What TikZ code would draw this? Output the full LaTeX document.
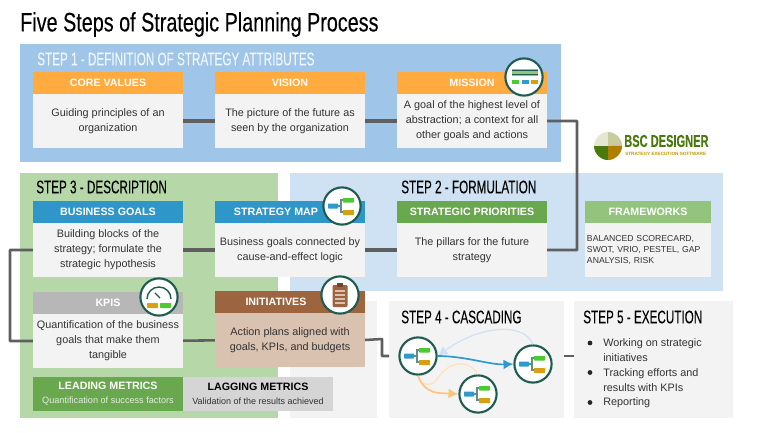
\documentclass[tikz,border=0pt]{standalone}
\usepackage{fontspec}
\setmainfont{Liberation Sans}
\newfontfamily\headfont[FakeStretch=0.64,FakeBold=0.1]{Liberation Sans}
\newfontfamily\titlefont[FakeStretch=0.74,FakeBold=0.15]{Liberation Sans}
\usetikzlibrary{positioning,arrows.meta}

\definecolor{stepOneBg}{HTML}{9FC5E8}
\definecolor{stepTwoBg}{HTML}{CFE2F3}
\definecolor{stepThreeBg}{HTML}{B6D7A8}
\definecolor{paleBg}{HTML}{F3F3F3}
\definecolor{orangeHead}{HTML}{FFAB40}
\definecolor{blueHead}{HTML}{2E96C8}
\definecolor{greenHead}{HTML}{6AA84F}
\definecolor{lightGreenHead}{HTML}{93C47D}
\definecolor{grayHead}{HTML}{B7B7B7}
\definecolor{brownHead}{HTML}{9C6540}
\definecolor{brownBody}{HTML}{D9C2B0}
\definecolor{lagBg}{HTML}{D5D5D5}
\definecolor{linkGray}{HTML}{5F5F5F}
\definecolor{ringTeal}{HTML}{1E5C50}
\definecolor{iconGreen}{HTML}{4CCB2E}
\definecolor{iconGold}{HTML}{D6A010}
\definecolor{iconBlue}{HTML}{2E9BD0}
\definecolor{logoPale}{HTML}{E6E7D2}
\definecolor{logoSage}{HTML}{C9CC9C}
\definecolor{logoGreen}{HTML}{4A7A0C}
\definecolor{logoGold}{HTML}{B07F00}

\tikzset{
  stepTitle/.style={anchor=west, inner sep=0pt, font=\headfont\fontsize{13}{15}\selectfont},
  cardHead/.style={minimum width=3.75cm, minimum height=0.55cm, inner sep=0pt, outer sep=0pt,
    text=white, font=\fontsize{7.6}{9}\selectfont\bfseries},
  cardBody/.style={fill=paleBg, minimum width=3.75cm, minimum height=1.35cm, inner sep=0pt, outer sep=0pt,
    align=center, text=black!80, font=\fontsize{7.7}{10.7}\selectfont},
  metricBox/.style={minimum width=3.75cm, minimum height=0.85cm, inner sep=0pt, outer sep=0pt, align=center,
    font=\fontsize{7.6}{10}\selectfont},
  linkThick/.style={draw=linkGray, line width=2.6pt},
  linkThin/.style={draw=linkGray, line width=1.8pt},
  iconRing/.style={circle, draw=ringTeal, fill=white, line width=1.5pt, minimum size=0.93cm, inner sep=0pt},
  stepText/.style={anchor=west, align=left, inner sep=0pt, text=black!80, font=\fontsize{7.7}{10.7}\selectfont},
  mapIcon/.pic={
    \draw[draw=ringTeal!70, line width=0.8pt] (-5,0) -- (-1,0) (2,-6) -- (-1,-6) -- (-1,6) -- (2,6);
    \fill[iconBlue, rounded corners=0.5pt] (-14,-2.5) rectangle (-4,2.5);
    \fill[iconGreen, rounded corners=0.5pt] (1,-8) rectangle (12,-3.5);
    \fill[iconGold, rounded corners=0.5pt] (1,4) rectangle (12,9);
  },
  gaugeIcon/.pic={
    \draw[draw=ringTeal, line width=1pt] (-12,2) arc[start angle=180, end angle=0, radius=0.3cm];
    \draw[draw=ringTeal, line width=1pt] (-4,-4) -- (1,1);
    \fill[iconGold, rounded corners=0.5pt] (-12,6) rectangle (-1,11);
    \fill[iconGreen, rounded corners=0.5pt] (1,6) rectangle (12,11);
  },
  boardIcon/.pic={
    \fill[brownHead, rounded corners=0.8pt] (-7.5,-10) rectangle (7.5,12);
    \fill[brownHead!70!black] (-3,-12) rectangle (3,-8);
    \foreach \ly in {-4,0,4,8} {
      \draw[draw=brownBody, line width=1pt] (-5,\ly) -- (5,\ly);
    }
  },
  listIcon/.pic={
    \fill[lightGreenHead] (-12,-8) rectangle (14,-1);
    \draw[draw=ringTeal, line width=0.7pt] (-12,-6.5) -- (14,-6.5) (-12,-2.5) -- (14,-2.5);
    \fill[iconGreen] (-12,3) rectangle (-5,7);
    \fill[iconBlue] (-2,3) rectangle (5,7);
    \fill[iconGold] (7,3) rectangle (14,7);
  }
}

\begin{document}
\begin{tikzpicture}[x=0.025cm, y=-0.025cm]
\useasboundingbox (0,0) rectangle (768,433);

%% Backgrounds
\fill[stepOneBg] (20,44) rectangle (561,162);
\fill[stepTwoBg] (290,173) rectangle (723,291);
\fill[paleBg] (290,301) rectangle (377,418);
\fill[stepThreeBg] (20,173) rectangle (278,418);
\fill[paleBg] (389,301) rectangle (564,418);
\fill[paleBg] (574,301) rectangle (733,418);

%% Title and step names
\node[anchor=west, inner sep=0pt, font=\titlefont\fontsize{19}{21}\selectfont] (pageTitle) at (20,24.5) {Five Steps of Strategic Planning Process};
\node[stepTitle, text=white!85!stepOneBg] (stepOne) at (37,59) {STEP 1 - DEFINITION OF STRATEGY ATTRIBUTES};
\node[stepTitle] (stepTwo) at (401,187) {STEP 2 - FORMULATION};
\node[stepTitle] (stepThree) at (36,187) {STEP 3 - DESCRIPTION};
\node[stepTitle] (stepFour) at (401,317) {STEP 4 - CASCADING};
\node[stepTitle] (stepFive) at (583,317) {STEP 5 - EXECUTION};

%% Step 1
\node[cardHead, fill=orangeHead] (coreHead) at (108,83) {CORE VALUES};
\node[cardBody, below=0pt of coreHead] (coreBody) {Guiding principles of an\\organization};
\node[cardHead, fill=orangeHead] (visionHead) at (290,83) {VISION};
\node[cardBody, below=0pt of visionHead] (visionBody) {The picture of the future as\\seen by the organization};
\node[cardHead, fill=orangeHead] (missionHead) at (472,83) {MISSION};
\node[cardBody, below=0pt of missionHead] (missionBody) {A goal of the highest level of\\abstraction; a context for all\\other goals and actions};

%% Step 2
\node[cardHead, fill=greenHead] (prioHead) at (472,212) {STRATEGIC PRIORITIES};
\node[cardBody, below=0pt of prioHead] (prioBody) {The pillars for the future\\strategy};
\node[cardHead, fill=lightGreenHead, minimum width=3.15cm] (frameHead) at (648,212) {FRAMEWORKS};
\node[cardBody, below=0pt of frameHead, minimum width=3.15cm, text width=3.05cm, align=left, font=\fontsize{6.15}{7.9}\selectfont] (frameBody) {BALANCED SCORECARD,\\SWOT, VRIO, PESTEL, GAP\\ANALYSIS, RISK};

%% Step 3
\node[cardHead, fill=blueHead] (goalsHead) at (108,212) {BUSINESS GOALS};
\node[cardBody, below=0pt of goalsHead] (goalsBody) {Building blocks of the\\strategy; formulate the\\strategic hypothesis};
\node[cardHead, fill=blueHead] (mapHead) at (290,212) {STRATEGY MAP\hspace{0.7cm}\null};
\node[cardBody, below=0pt of mapHead] (mapBody) {Business goals connected by\\cause-and-effect logic};
\node[cardHead, fill=grayHead] (kpiHead) at (108,303) {KPIS};
\node[cardBody, below=0pt of kpiHead] (kpiBody) {Quantification of the business\\goals that make them\\tangible};
\node[cardHead, fill=brownHead] (initHead) at (290,302) {INITIATIVES\hspace{0.7cm}\null};
\node[cardBody, fill=brownBody, below=0pt of initHead] (initBody) {Action plans aligned with\\goals, KPIs, and budgets};
\node[metricBox, fill=greenHead, text=white] (leadBox) at (108,394) {\bfseries LEADING METRICS\\{\fontsize{6.5}{8}\selectfont\mdseries\color{white!80!greenHead}Quantification of success factors}};
\node[metricBox, fill=lagBg, right=0pt of leadBox] (lagBox) {\bfseries LAGGING METRICS\\{\fontsize{6.4}{8}\selectfont\mdseries\color{black!80}Validation of the results achieved}};

%% Links
\coordinate (bendA) at (577,121);
\coordinate (bendB) at (10,250);
\coordinate (bendC) at (382,339);
\coordinate (fourIn) at (389,356);
\coordinate (fourOut) at (564,356);
\coordinate (fiveIn) at (574,356);
\draw[linkThick] (coreBody) -- (visionBody);
\draw[linkThick] (visionBody) -- (missionBody);
\draw[linkThin, line join=round] (missionBody.east) -- (bendA) |- (prioBody.east);
\draw[linkThick] (prioBody) -- (mapBody);
\draw[linkThick] (mapBody) -- (goalsBody);
\draw[linkThin, line join=round] (goalsBody.west) -- (bendB) |- (kpiBody.west);
\draw[linkThin] (kpiBody) -- (initBody);
\draw[linkThin, line join=round] (initBody.east) -- (bendC) |- (fourIn);
\draw[linkThin] (fourOut) -- (fiveIn);

%% Step 4
\node[iconRing] (casTop) at (418,356) {};
\node[iconRing] (casRight) at (533,364) {};
\node[iconRing] (casLow) at (478,394) {};
\draw[-{Latex[length=7pt,width=7pt]}, draw=stepTwoBg, line width=0.9pt] (casRight.north) .. controls (524,322) and (480,325) .. (casTop.east);
\draw[draw=orangeHead!35, line width=0.9pt] (casLow.north) .. controls (468,358) and (448,362) .. (438,378) .. controls (434,384) and (430,386) .. (423,383);
\draw[-{Latex[length=7pt,width=7pt]}, draw=iconBlue, line width=1.2pt] (casTop.east) .. controls (465,356) and (490,365) .. (casRight.west);
\draw[-{Latex[length=7pt,width=7pt]}, draw=orangeHead!70, line width=1.2pt] (casTop.south) .. controls (425,395) and (440,393) .. (casLow.west);
\pic at (casTop) {mapIcon};
\pic at (casRight) {mapIcon};
\pic at (casLow) {mapIcon};

%% Step 5
\foreach \by in {343,372.5,402.5} {
  \fill[black!85] (590,\by) circle[radius=0.06cm];
}
\node[stepText] (execA) at (603,350.5) {Working on strategic\\initiatives};
\node[stepText] (execB) at (603,380) {Tracking efforts and\\results with KPIs};
\node[stepText] (execC) at (603,402.5) {Reporting};

%% Icons on the cards
\node[iconRing] (missionRing) at (524,77) {};
\pic at (missionRing) {listIcon};
\node[iconRing] (mapRing) at (342,206) {};
\pic at (mapRing) {mapIcon};
\node[iconRing] (kpiRing) at (159,297) {};
\pic at (kpiRing) {gaugeIcon};
\node[iconRing] (initRing) at (340,295) {};
\pic at (initRing) {boardIcon};

%% Logo
\coordinate (logoMid) at (608,146);
\fill[logoPale] (logoMid) -- ++(-14,0) arc[start angle=180, end angle=90, radius=0.35cm] -- cycle;
\fill[logoSage] (logoMid) -- ++(0,-14) arc[start angle=90, end angle=0, radius=0.35cm] -- cycle;
\fill[logoGreen] (logoMid) -- ++(-14,0) arc[start angle=180, end angle=270, radius=0.35cm] -- cycle;
\fill[logoGold] (logoMid) -- ++(0,14) arc[start angle=270, end angle=360, radius=0.35cm] -- cycle;
\node[anchor=west, inner sep=0pt, text=logoGreen, font=\headfont\fontsize{12.3}{14}\selectfont\bfseries] (logoName) at (624,141) {BSC DESIGNER};
\node[anchor=west, inner sep=0pt, text=logoGold!80!yellow, font=\fontsize{3.3}{5}\selectfont\bfseries] (logoLine) at (625,154) {STRATEGY EXECUTION SOFTWARE};

\end{tikzpicture}
\end{document}
